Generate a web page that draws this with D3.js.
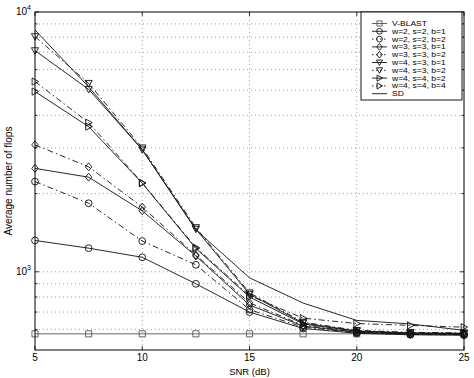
<!DOCTYPE html>
<html><head><meta charset="utf-8">
<script src="https://cdn.jsdelivr.net/npm/d3@7"></script>
<style>body{margin:0;background:#fff}svg{font-family:"Liberation Sans",Arial,sans-serif}</style>
</head><body><svg id="c" width="474" height="378"></svg>
<script>
const snr = [5, 7.5, 10, 12.5, 15, 17.5, 20, 22.5, 25];
const vblast   = [577, 577, 577, 577, 577, 577, 577, 577, 577];
const w2s2b1   = [1320, 1233, 1137, 899, 700, 605, 580, 572, 570];
const w2s2b2   = [2225, 1836, 1313, 1064, 715, 612, 583, 574, 572];
const w3s3b1   = [2500, 2313, 1716, 1150, 745, 618, 585, 576, 574];
const w3s3b2   = [3080, 2535, 1775, 1160, 760, 622, 588, 578, 576];
const w4s3b1   = [7100, 5040, 2950, 1460, 820, 635, 592, 582, 580];
const w4s3b2   = [8040, 5315, 3000, 1480, 830, 640, 595, 585, 582];
const w4s4b2   = [4940, 3620, 2193, 1230, 800, 630, 590, 580, 578];
const w4s4b4   = [5400, 3750, 2200, 1240, 810, 663, 632, 622, 612];
const sd       = [8530, 5150, 2950, 1450, 948, 758, 650, 630, 595];
const seriesNames = ["V-BLAST","w=2, s=2, b=1","w=2, s=2, b=2","w=3, s=3, b=1","w=3, s=3, b=2","w=4, s=3, b=1","w=4, s=3, b=2","w=4, s=4, b=2","w=4, s=4, b=4","SD"];
const xTicks = [5, 10, 15, 20, 25];
const yMajor = [1000, 10000];
const yMinor = [600,700,800,900,2000,3000,4000,5000,6000,7000,8000,9000];

const DD = "6,3,1.5,3";
const series = [
  {name: seriesNames[0], v: vblast, marker: "square", dash: null, color: "#555"},
  {name: seriesNames[1], v: w2s2b1, marker: "circle", dash: null},
  {name: seriesNames[2], v: w2s2b2, marker: "circle", dash: DD},
  {name: seriesNames[3], v: w3s3b1, marker: "diamond", dash: null},
  {name: seriesNames[4], v: w3s3b2, marker: "diamond", dash: DD},
  {name: seriesNames[5], v: w4s3b1, marker: "tdown", dash: null},
  {name: seriesNames[6], v: w4s3b2, marker: "tdown", dash: DD},
  {name: seriesNames[7], v: w4s4b2, marker: "tright", dash: null},
  {name: seriesNames[8], v: w4s4b4, marker: "tright", dash: DD},
  {name: seriesNames[9], v: sd, marker: null, dash: null}
];

const L = 35, R = 464, T = 12, B = 350;
const x = d3.scaleLinear().domain([5, 25]).range([L, R]);
const y = d3.scaleLog().domain([500, 10000]).range([B, T]);
const svg = d3.select("#c");

// grid
const g = svg.append("g");
g.selectAll(".vg").data(xTicks.slice(1, -1)).join("line")
  .attr("x1", d => x(d)).attr("x2", d => x(d)).attr("y1", T).attr("y2", B)
  .attr("stroke", "#888").attr("stroke-width", 0.8).attr("stroke-dasharray", "1,3");
g.selectAll(".hg").data(yMinor.concat([1000])).join("line")
  .attr("x1", L).attr("x2", R).attr("y1", d => y(d)).attr("y2", d => y(d))
  .attr("stroke", "#888").attr("stroke-width", 0.8).attr("stroke-dasharray", "1,3");

// ticks
const tk = svg.append("g").attr("stroke", "#000").attr("stroke-width", 0.8);
xTicks.forEach(d => {
  tk.append("line").attr("x1", x(d)).attr("x2", x(d)).attr("y1", B).attr("y2", B - 4);
  tk.append("line").attr("x1", x(d)).attr("x2", x(d)).attr("y1", T).attr("y2", T + 4);
});
yMajor.forEach(d => {
  tk.append("line").attr("x1", L).attr("x2", L + 4).attr("y1", y(d)).attr("y2", y(d));
  tk.append("line").attr("x1", R).attr("x2", R - 4).attr("y1", y(d)).attr("y2", y(d));
});
yMinor.forEach(d => {
  tk.append("line").attr("x1", L).attr("x2", L + 2.5).attr("y1", y(d)).attr("y2", y(d));
  tk.append("line").attr("x1", R).attr("x2", R - 2.5).attr("y1", y(d)).attr("y2", y(d));
});

// tick labels
svg.selectAll(".xl").data(xTicks).join("text")
  .attr("x", d => x(d)).attr("y", B + 11).attr("text-anchor", "middle")
  .attr("font-size", 10).text(d => d);
yMajor.forEach(d => {
  const t = svg.append("text").attr("x", L - 4).attr("y", y(d) + 3)
    .attr("text-anchor", "end").attr("font-size", 10);
  t.append("tspan").text("10");
  t.append("tspan").attr("dy", -5).attr("font-size", 7).text(Math.round(Math.log10(d)));
});
svg.append("text").attr("x", (L + R) / 2).attr("y", 375).attr("text-anchor", "middle")
  .attr("font-size", 9.5).text("SNR (dB)");
svg.append("text").attr("transform", `translate(12,${(T + B) / 2}) rotate(-90)`)
  .attr("text-anchor", "middle").attr("font-size", 10).text("Average number of flops");

// marker paths
function markerPath(type, cx, cy) {
  const s = 3.6;
  if (type === "square") return `M${cx-s*0.85},${cy-s*0.85}h${s*1.7}v${s*1.7}h${-s*1.7}Z`;
  if (type === "diamond") return `M${cx},${cy-s*1.1}L${cx+s*0.9},${cy}L${cx},${cy+s*1.1}L${cx-s*0.9},${cy}Z`;
  if (type === "tdown") return `M${cx-s},${cy-s*0.8}L${cx+s},${cy-s*0.8}L${cx},${cy+s}Z`;
  if (type === "tright") return `M${cx-s*0.8},${cy-s}L${cx+s},${cy}L${cx-s*0.8},${cy+s}Z`;
}
function drawMarker(sel, type, cx, cy, color, sc) {
  sc = sc || 1;
  if (type === "circle") {
    sel.append("circle").attr("cx", cx).attr("cy", cy).attr("r", 3.4 * sc)
      .attr("fill", "none").attr("stroke", color).attr("stroke-width", 0.9);
  } else {
    sel.append("path").attr("d", markerPath(type, 0, 0))
      .attr("transform", `translate(${cx},${cy}) scale(${sc})`)
      .attr("fill", "none").attr("stroke", color).attr("stroke-width", 0.9 / sc);
  }
}

// lines
const line = d3.line().x((d, i) => x(snr[i])).y(d => y(d));
const plot = svg.append("g");
series.forEach(s => {
  const col = s.color || "#111";
  plot.append("path").datum(s.v).attr("d", line).attr("fill", "none")
    .attr("stroke", col).attr("stroke-width", 0.9)
    .attr("stroke-dasharray", s.dash);
  if (s.marker) s.v.forEach((v, i) => drawMarker(plot, s.marker, x(snr[i]), y(v), col));
});

// frame
svg.append("rect").attr("x", L).attr("y", T).attr("width", R - L).attr("height", B - T)
  .attr("fill", "none").attr("stroke", "#000").attr("stroke-width", 1);

// legend
const lx = 361, ly = 12, lw = 101, lh = 88;
const lg = svg.append("g");
lg.append("rect").attr("x", lx).attr("y", ly).attr("width", lw).attr("height", lh)
  .attr("fill", "#fff").attr("stroke", "#000").attr("stroke-width", 0.9);
series.forEach((s, i) => {
  const yy = 23.5 + i * 7.8;
  const col = s.color || "#111";
  lg.append("line").attr("x1", 372).attr("x2", 387).attr("y1", yy).attr("y2", yy)
    .attr("stroke", col).attr("stroke-width", 0.9).attr("stroke-dasharray", s.dash ? "1.5,2.5" : null);
  if (s.marker) drawMarker(lg, s.marker, 379.5, yy, col, 0.85);
  const t = lg.append("text").attr("x", 392).attr("y", yy + 2.5).attr("font-size", 6.8).text(s.name);
  const w = t.node().getComputedTextLength();
  t.attr("textLength", w * 1.25).attr("lengthAdjust", "spacingAndGlyphs");
});
</script></body></html>
